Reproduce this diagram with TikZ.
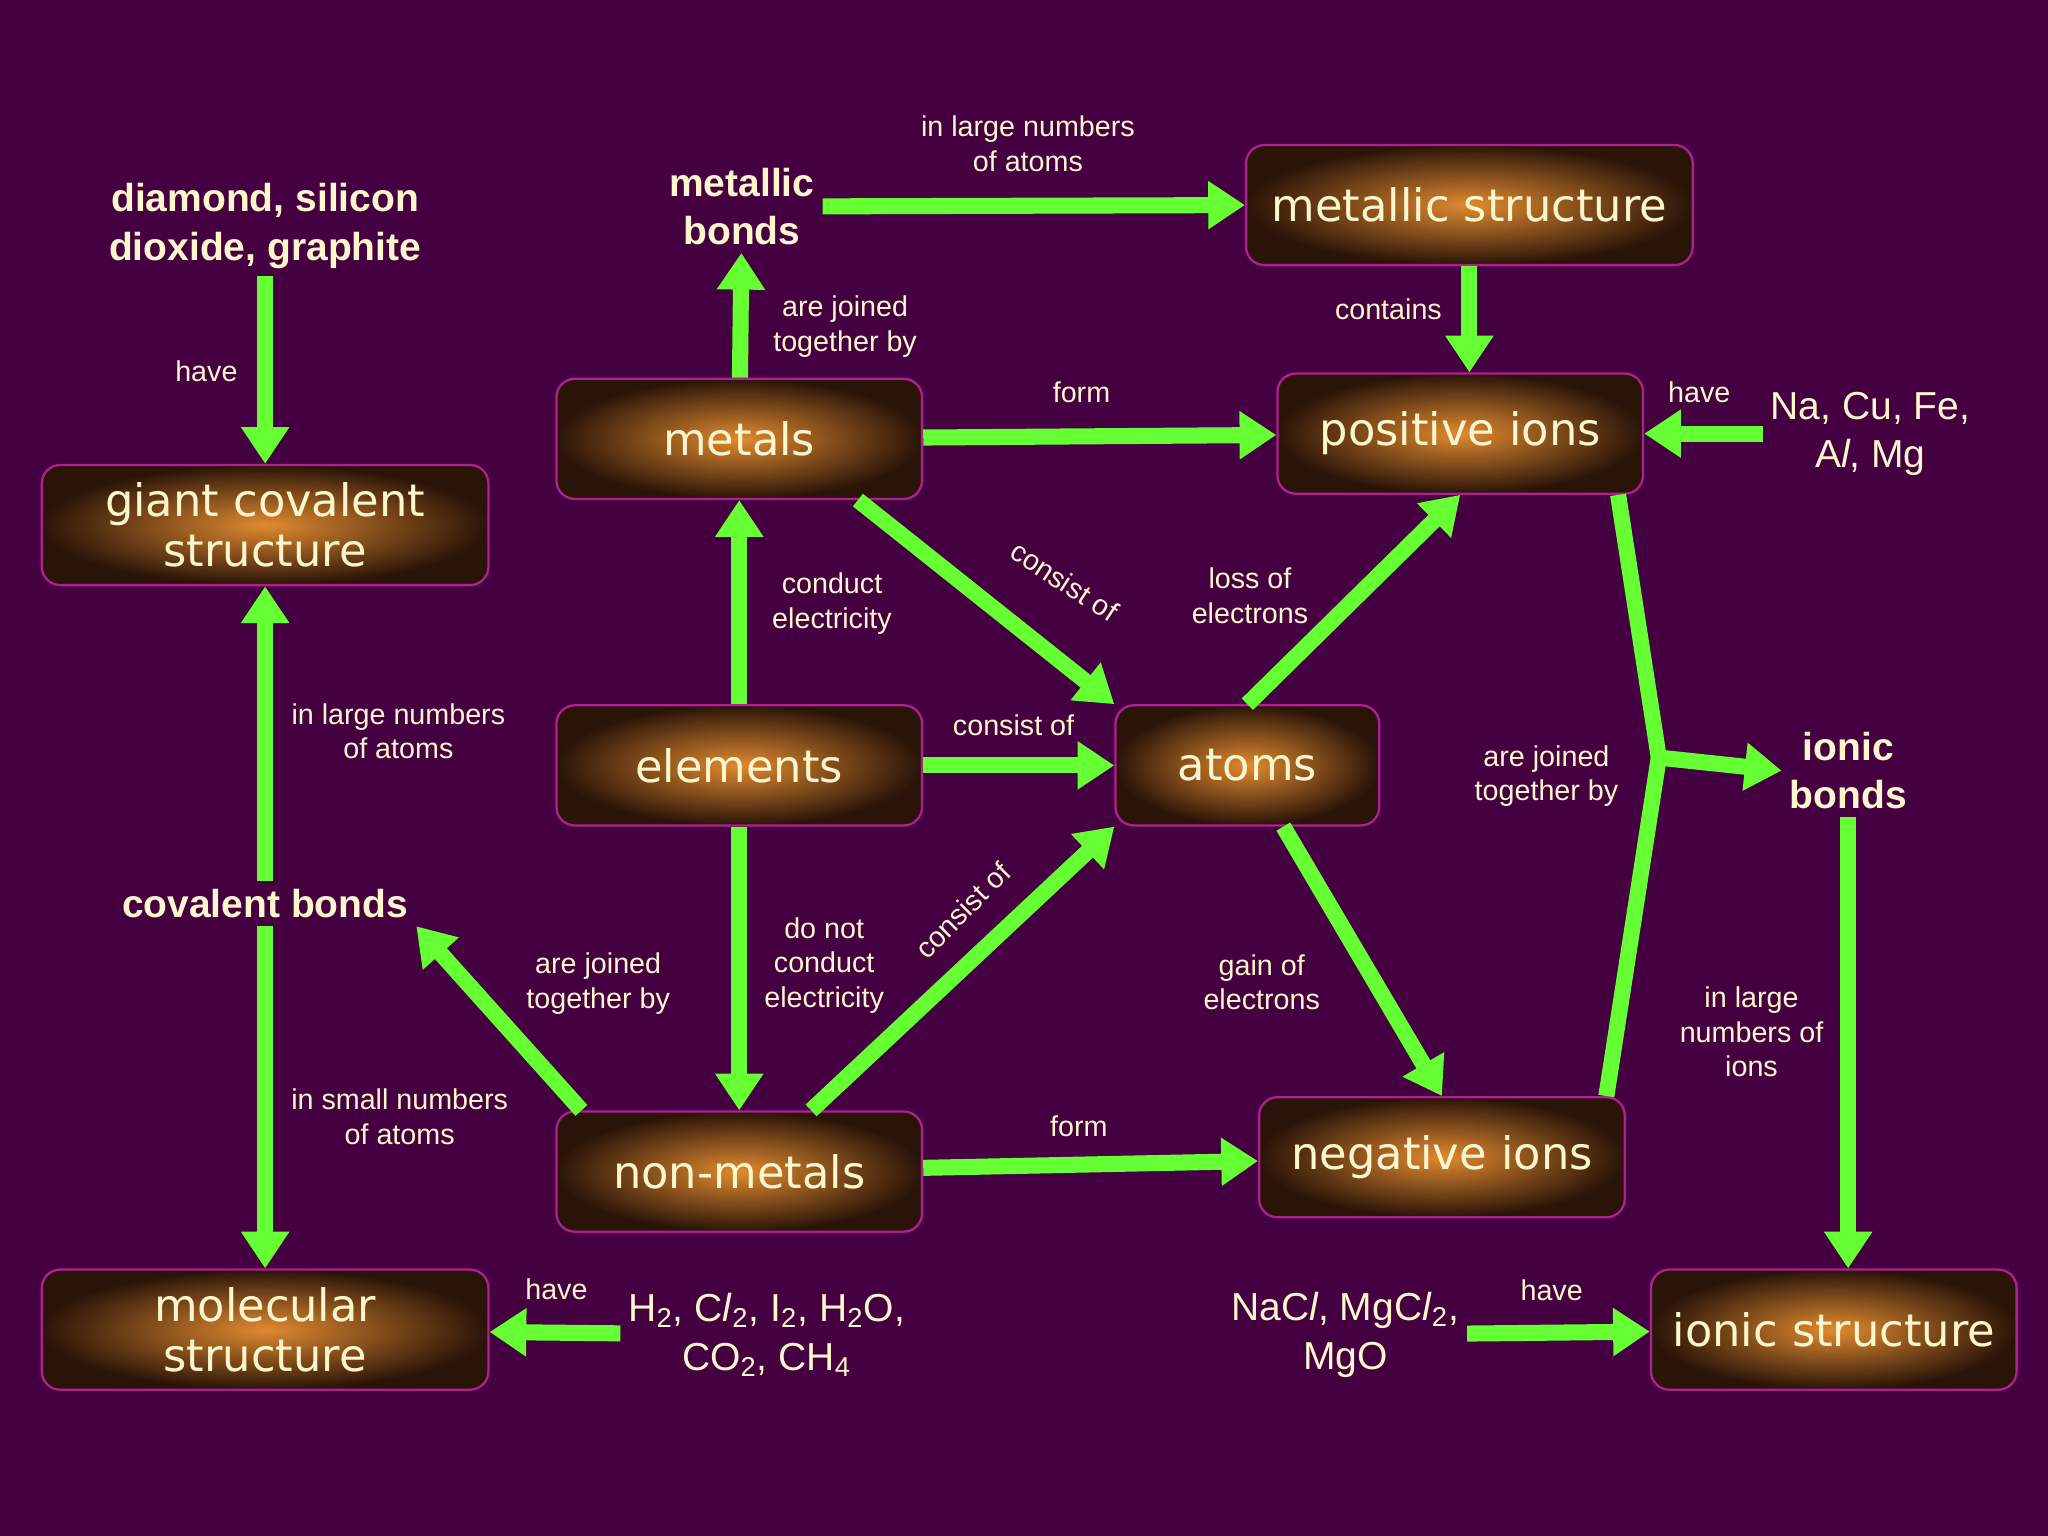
\documentclass[tikz,border=0pt]{standalone}
\usepackage{fontspec}
\setmainfont{Liberation Sans}
\newfontfamily\boxfont{DejaVu Sans}
\usetikzlibrary{arrows.meta}
\definecolor{bgpurple}{HTML}{440040}
\definecolor{arrgreen}{HTML}{66FF33}
\definecolor{cream}{HTML}{FFF6CC}
\definecolor{boxdark}{HTML}{2A1408}
\definecolor{boxmid}{HTML}{E08A30}
\definecolor{boxedge}{HTML}{B02090}
\tikzset{
  conc/.style={draw=boxedge, line width=1pt, rounded corners=8pt, inner color=boxmid, outer color=boxdark,
    minimum height=1.84cm, text=cream, font=\boxfont\fontsize{19.5}{22}\selectfont, align=center},
  term/.style={text=cream, font=\bfseries\fontsize{17}{21}\selectfont, align=center},
  formula/.style={text=cream, font=\fontsize{17}{21}\selectfont, align=center},
  lbl/.style={text=cream, font=\fontsize{12.5}{15}\selectfont, align=center},
  link/.style={draw=arrgreen, line width=7pt, -{Triangle[length=16pt,width=20pt]}},
  joint/.style={draw=arrgreen, line width=7pt}
}
\begin{document}
\begin{tikzpicture}[x=0.02cm,y=-0.02cm]
\fill[bgpurple] (0,0) rectangle (1568,1176);
\useasboundingbox (0,0) rectangle (1568,1176);

% concept boxes
\node[conc, minimum width=6.84cm] (metstruct) at (1125,157) {metallic structure};
\node[conc, minimum width=6.84cm] (giant) at (203,402) {giant covalent\\structure};
\node[conc, minimum width=5.6cm] (metals) at (566,336) {metals};
\node[conc, minimum width=5.6cm] (posions) at (1118,332) {positive ions};
\node[conc, minimum width=5.6cm] (elements) at (566,586) {elements};
\node[conc, minimum width=4.04cm] (atoms) at (955,586) {atoms};
\node[conc, minimum width=5.6cm] (nonmetals) at (566,897) {non-metals};
\node[conc, minimum width=5.6cm] (negions) at (1104,886) {negative ions};
\node[conc, minimum width=6.84cm] (molecular) at (203,1018) {molecular\\structure};
\node[conc, minimum width=5.6cm] (ionstruct) at (1404,1018) {ionic structure};

% plain terms
\node[term] (metbonds) at (568,158) {metallic\\bonds};
\node[term] (diamond) at (203,173) {diamond, silicon\\dioxide, graphite};
\node[term] (covbonds) at (203,692) {covalent bonds};
\node[term] (ionbonds) at (1415,590) {ionic\\bonds};
\node[formula] (metlist) at (1432,332) {Na, Cu, Fe,\\A\textit{l}, Mg};
\node[formula] (covlist) at (587,1022) {H\textsubscript{2}, C\textit{l}\textsubscript{2}, I\textsubscript{2}, H\textsubscript{2}O,\\CO\textsubscript{2}, CH\textsubscript{4}};
\node[formula] (ionlist) at (1030,1022) {NaC\textit{l}, MgC\textit{l}\textsubscript{2},\\MgO};
\coordinate (fork) at (1270,580);

% links
\draw[link] (metbonds.east) -- (metstruct.west);
\draw[link] (metstruct.south) -- (metstruct.south |- posions.north);
\draw[link] (metlist) -- (posions);
\draw[link] (metals) -- (metbonds);
\draw[link] (metals) -- (posions);
\draw[link] (metals.south east) ++(-50,0) -- (atoms.north west);
\draw[link] (elements) -- (metals);
\draw[link] (elements) -- (atoms);
\draw[link] (elements) -- (nonmetals);
\draw[link] (nonmetals.north) ++(55,0) -- (atoms.south west);
\draw[link] (nonmetals.north west) ++(20,0) -- (covbonds.south east);
\draw[link] (nonmetals) -- (negions);
\draw[link] (atoms.north) -- (posions.south);
\draw[link] (atoms) -- (negions.north);
\draw[link] (diamond) -- (giant);
\draw[link] (covbonds) -- (giant);
\draw[link] (covbonds) -- (molecular);
\draw[link] (covlist) -- (molecular);
\draw[link] (ionlist) -- (ionstruct);
\draw[link] (ionbonds.south) -- (ionbonds.south |- ionstruct.north);
\draw[joint] (posions.south east) ++(-20,0) -- (fork);
\draw[joint] (negions.north east) ++(-15,0) -- (fork);
\draw[link] (fork) -- (ionbonds.west);

% link labels
\node[lbl] at (787,110) {in large numbers\\of atoms};
\node[lbl] at (1063,237) {contains};
\node[lbl] at (1301,300) {have};
\node[lbl] at (647,250) {are joined\\together by};
\node[lbl] at (828,300) {form};
\node[lbl, rotate=-33] at (815,445) {consist of};
\node[lbl] at (637,462) {conduct\\electricity};
\node[lbl] at (776,555) {consist of};
\node[lbl] at (631,739) {do not\\conduct\\electricity};
\node[lbl, rotate=45] at (737,697) {consist of};
\node[lbl] at (458,753) {are joined\\together by};
\node[lbl] at (826,862) {form};
\node[lbl] at (957,456) {loss of\\electrons};
\node[lbl] at (966,752) {gain of\\electrons};
\node[lbl] at (158,284) {have};
\node[lbl] at (305,560) {in large numbers\\of atoms};
\node[lbl] at (306,855) {in small numbers\\of atoms};
\node[lbl] at (426,987) {have};
\node[lbl] at (1188,988) {have};
\node[lbl] at (1341,790) {in large\\numbers of\\ions};
\node[lbl] at (1184,594) {are joined\\together by};
\end{tikzpicture}
\end{document}
